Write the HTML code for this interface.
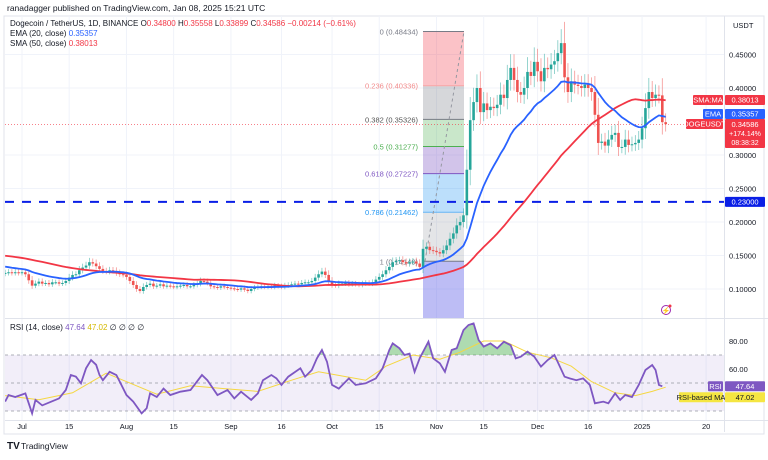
<!DOCTYPE html>
<html><head><meta charset="utf-8"><style>
body{margin:0;background:#fff;font-family:"Liberation Sans",sans-serif;}
svg text{font-family:"Liberation Sans",sans-serif;}
</style></head><body>
<svg id="c" width="768" height="455" viewBox="0 0 768 455" xmlns="http://www.w3.org/2000/svg">
<rect x="0" y="0" width="768" height="455" fill="#fff"/>
<text x="7" y="11" font-size="8.5" fill="#131722">ranadagger published on TradingView.com, Jan 08, 2025 15:21 UTC</text>
<rect x="4" y="16" width="760" height="418" fill="none" stroke="#e0e3eb"/>
<g id="grid"></g>
<g id="fib"></g>
<g id="main"></g>
<g id="rsi"></g>
<g id="axes"></g>
<text x="10" y="26" font-size="8" fill="#131722">Dogecoin / TetherUS, 1D, BINANCE  O<tspan fill="#f23645">0.34800</tspan>  H<tspan fill="#f23645">0.35558</tspan>  L<tspan fill="#f23645">0.33899</tspan>  C<tspan fill="#f23645">0.34586  −0.00214 (−0.61%)</tspan></text>
<text x="10" y="36" font-size="8" fill="#131722">EMA (20, close)  <tspan fill="#2962ff">0.35357</tspan></text>
<text x="10" y="46" font-size="8" fill="#131722">SMA (50, close)  <tspan fill="#f23645">0.38013</tspan></text>
<text x="10" y="330" font-size="8" fill="#131722">RSI (14, close)  <tspan fill="#7e57c2">47.64</tspan>  <tspan fill="#d4b800">47.02</tspan>  ∅  ∅  ∅  ∅</text>
<g><text x="7" y="449" font-size="10" font-weight="bold" fill="#131722">TV</text><text x="21" y="449" font-size="8.5" fill="#131722">TradingView</text></g>
<g><circle cx="666" cy="310" r="4.5" fill="none" stroke="#9c27b0" stroke-width="1"/><text x="666" y="313" font-size="7" fill="#9c27b0" text-anchor="middle">⚡</text><circle cx="670" cy="306" r="1.5" fill="#f23645"/></g>
</svg>
<script>
const history=[0.150,0.152,0.155,0.158,0.160,0.162,0.165,0.163,0.160,0.158,0.157,0.159,0.162,0.165,0.168,0.166,0.164,0.162,0.160,0.158,0.160,0.162,0.165,0.166,0.164,0.162,0.160,0.158,0.156,0.155,0.150,0.148,0.146,0.145,0.143,0.141,0.140,0.138,0.137,0.135,0.134,0.132,0.130,0.128,0.127,0.126,0.125,0.124,0.124,0.123];
const startDay=-5;
const closes=[0.124,0.125,0.124,0.125,0.124,0.125,
0.122,0.113,0.105,0.108,0.111,0.108,0.109,
0.107,0.110,0.110,0.108,0.109,0.112,0.117,
0.121,0.122,0.128,0.132,0.135,0.140,0.138,
0.134,0.130,0.127,0.126,0.128,0.127,0.124,
0.122,0.121,0.118,0.112,0.106,0.100,0.097,
0.103,0.106,0.108,0.104,0.105,0.107,0.104,
0.105,0.104,0.103,0.104,0.105,0.106,0.104,
0.104,0.106,0.108,0.112,0.111,0.109,0.104,
0.103,0.102,0.104,0.103,0.102,0.101,0.100,
0.099,0.101,0.099,0.097,0.100,0.102,0.103,
0.104,0.103,0.104,0.103,0.105,0.104,0.103,
0.105,0.106,0.107,0.108,0.107,0.109,0.110,
0.110,0.112,0.117,0.122,0.126,0.121,0.112,
0.106,0.105,0.108,0.108,0.109,0.107,0.108,
0.107,0.106,0.108,0.109,0.108,0.110,0.114,
0.118,0.122,0.128,0.133,0.140,0.142,0.143,
0.140,0.138,0.140,0.141,0.138,0.133,0.160,
0.163,0.158,0.157,0.155,0.153,0.158,0.165,
0.175,0.183,0.195,0.200,0.210,0.278,0.352,0.379,0.400,
0.364,0.377,0.367,0.372,0.370,0.375,0.390,
0.385,0.412,0.430,0.412,0.394,0.390,0.400,
0.424,0.418,0.439,0.425,0.410,0.430,0.428,
0.435,0.440,0.452,0.467,0.416,0.394,0.410,
0.405,0.403,0.400,0.405,0.400,0.394,0.360,
0.318,0.320,0.314,0.323,0.330,0.333,0.312,
0.312,0.323,0.315,0.316,0.318,0.323,0.340,
0.370,0.394,0.385,0.390,0.389,0.349,0.346];
const rsiDays=[-5,-4,-2,1,2,3,4,6,9,11,13,14.5,16,17.5,19,20.5,22,23,24,26,28,29,31,33,35.5,37,38,40,42,44,47,50,53.4,55,58,61,63,65,68,70,71.5,74,75.5,77,79,82.6,84,86,87.5,89,90.5,92,94,97,99,102,105,107,109,110,112,113.5,115,116.5,118,120.6,122,124,125.5,127.5,129,131,132.5,134,135.5,137,139,141,143,145,146.5,148,150,152,154,156,158,161,162.5,164.5,166.5,168.5,170,172.5,174,176,177.5,179,181,183,185,187,188,189,190,191];
const rsiVals=[36.7,41.4,40,42.6,35.5,28.3,37.9,34,37,39,45,55.7,54.5,49.8,60.5,66.4,63,55.7,52,58,55.7,51,41.4,36.7,28.3,32,42.6,40,46,41.4,43.8,45,55.7,52,41.4,45,39,43.8,37.9,42.6,52,55.7,53.3,48.6,54.5,60.5,54.5,59.3,67.6,73.6,65.2,48.6,46,53.3,48.6,49.8,53.3,60.5,73.6,78.3,74.8,70,71,58,67.6,79.5,67.6,64,58,73.6,74.8,87.8,91.4,92.6,80.7,76,78.3,74.8,79.5,77,67.6,68.8,72.4,68.8,61.7,66.4,70,54.5,53.3,52,53.3,48.6,35.5,36.7,35.5,42.6,37.9,41.4,40,48.6,59.3,62.8,59.3,48.6,47.64];
const maDays=[-5,5,15,25,33,40,50,60,70,80,88,95,102,108,116,124,130,137,143,150,157,163,169,176,182,187,191];
const maVals=[41,38,43,57,49,42,48,46,44,52,58,55,52,62,70,67,72,80,80,72,68,62,51,43,41,44,47.02];
const priceTicks=[0.10,0.15,0.20,0.25,0.30,0.45,0.40];
const rsiTicks=[80,60];
const dateLabels=["Jul","15","Aug","15","Sep","16","Oct","15","Nov","15","Dec","16","2025","20"];
const dateDays=[0,14,31,45,62,77,92,106,123,137,153,168,184,203];
const fibRatios=[0,0.236,0.382,0.5,0.618,0.786,1];
const fibPrices=[0.48434,0.40336,0.35326,0.31277,0.27227,0.21462,0.14140];
const supportLevel=0.23;
const lastClose=0.34586, emaLast=0.35357, smaLast=0.38013;

const NS="http://www.w3.org/2000/svg";
const X0=5,X1=724,PT=16,PB=318,RT=319,RB=420;
function xOf(d){return 22+d*3.37;}
function yP(p){return 289-(p-0.1)*670;}
function yR(v){return 369-(v-60)*1.4;}
function mk(tag,at,parent){const e=document.createElementNS(NS,tag);for(const k in at)e.setAttribute(k,at[k]);parent.appendChild(e);return e;}
const svg=document.getElementById('c');
const defs=mk('defs',{},svg);
const cp=mk('clipPath',{id:'cm'},defs);mk('rect',{x:X0,y:PT,width:X1-X0,height:PB-PT},cp);
const cr=mk('clipPath',{id:'cr'},defs);mk('rect',{x:X0,y:RT,width:X1-X0,height:RB-RT},cr);
const cob=mk('clipPath',{id:'cob'},defs);mk('rect',{x:X0,y:RT,width:X1-X0,height:yR(70)-RT},cob);

const grid=document.getElementById('grid');
priceTicks.forEach(p=>{const l=mk('line',{x1:X0,x2:X1,y1:yP(p),y2:yP(p),stroke:'#f0f3fa'},grid);});
dateDays.forEach(d=>{const l=mk('line',{x1:xOf(d),x2:xOf(d),y1:PT,y2:RB,stroke:'#f0f3fa'},grid);});
mk('line',{x1:X0,x2:768,y1:PB+0.5,y2:PB+0.5,stroke:'#e0e3eb'},grid);
mk('line',{x1:X1+0.5,x2:X1+0.5,y1:PT,y2:RB+12,stroke:'#e0e3eb'},grid);
mk('line',{x1:X0,x2:768,y1:RB+0.5,y2:RB+0.5,stroke:'#e0e3eb'},grid);

const fib=document.getElementById('fib');
const fx0=423,fx1=464;
const fibFill=['rgba(242,54,69,0.3)','rgba(120,123,134,0.3)','rgba(76,175,80,0.3)','rgba(126,87,194,0.35)','rgba(33,150,243,0.3)','rgba(120,123,134,0.2)'];
const fibLine=['#787b86','#f7a5a5','#787b86','#4caf50','#7e57c2','#64b5f6','#787b86'];
const fibText=['#787b86','#f28b8b','#555','#4caf50','#7e57c2','#2196f3','#787b86'];
for(let i=0;i<fibPrices.length-1;i++){const r=mk('rect',{x:fx0,y:yP(fibPrices[i]),width:fx1-fx0,height:yP(fibPrices[i+1])-yP(fibPrices[i]),fill:fibFill[i]},fib);}
const below=mk('rect',{x:fx0,y:yP(fibPrices[6]),width:fx1-fx0,height:PB-yP(fibPrices[6]),fill:'rgba(90,90,230,0.4)'},fib);

fibPrices.forEach((p,i)=>{const l=mk('line',{x1:fx0,x2:fx1,y1:yP(p),y2:yP(p),stroke:fibLine[i],'stroke-width':1},fib);
 const t=mk('text',{x:418,y:yP(p)+3,'font-size':7.5,fill:fibText[i],'text-anchor':'end'},fib);t.textContent=fibRatios[i]+' ('+p.toFixed(5)+')';});
mk('line',{x1:fx0+2,y1:yP(fibPrices[6]),x2:fx1,y2:yP(fibPrices[0]),stroke:'#9598a1','stroke-dasharray':'3,3'},fib);

const main=document.getElementById('main');main.setAttribute('clip-path','url(#cm)');
const sl=mk('line',{x1:X0,x2:X1,y1:yP(supportLevel),y2:yP(supportLevel),stroke:'#0a1fe6','stroke-width':2,'stroke-dasharray':'9,8'},main);

const pl=mk('line',{x1:X0,x2:X1,y1:yP(lastClose),y2:yP(lastClose),stroke:'#f23645','stroke-width':0.6,'stroke-dasharray':'1,2'},main);

let prev=history[history.length-1];
closes.forEach((c,i)=>{const d=startDay+i;const o=prev;prev=c;const up=c>=o;const col=up?'#26a69a':'#ef5350';
 const hi=Math.max(o,c)*1.035+Math.abs(c-o)*0.3,lo=Math.min(o,c)*0.97-Math.abs(c-o)*0.2;const x=xOf(d);
 const w=mk('line',{x1:x,x2:x,y1:yP(hi),y2:yP(lo),stroke:col,'stroke-width':0.8,opacity:0.6},main);
 const yt=yP(Math.max(o,c)),h=Math.max(1,yP(Math.min(o,c))-yt);
 const b=mk('rect',{x:x-1.3,y:yt,width:2.6,height:h,fill:col},main);});
const all=history.concat(closes);
let ema=history.slice(0,20).reduce((a,b)=>a+b,0)/20;const k=2/21;
for(let i=20;i<history.length;i++)ema=all[i]*k+ema*(1-k);
let ep=[],sp=[];
closes.forEach((c,i)=>{ema=c*k+ema*(1-k);const j=history.length+i;const s=all.slice(j-49,j+1).reduce((a,b)=>a+b,0)/50;const x=xOf(startDay+i);ep.push(x+','+yP(ema));sp.push(x+','+yP(s));});
const smaL=mk('polyline',{points:sp.join(' '),fill:'none',stroke:'#f23645','stroke-width':1.8},main);
const emaL=mk('polyline',{points:ep.join(' '),fill:'none',stroke:'#2962ff','stroke-width':1.8},main);

const rsi=document.getElementById('rsi');rsi.setAttribute('clip-path','url(#cr)');
const band=mk('rect',{x:X0,y:yR(70),width:X1-X0,height:yR(30)-yR(70),fill:'rgba(126,87,194,0.1)'},rsi);
[70,50,30].forEach(v=>{const l=mk('line',{x1:X0,x2:X1,y1:yR(v),y2:yR(v),stroke:'#9598a1','stroke-width':0.8,'stroke-dasharray':'3,3'},rsi);});
const rp=rsiDays.map((d,i)=>xOf(d)+','+yR(rsiVals[i]));
const ob=mk('polygon',{points:xOf(rsiDays[0])+','+yR(70)+' '+rp.join(' ')+' '+xOf(rsiDays[rsiDays.length-1])+','+yR(70),fill:'rgba(76,175,80,0.45)','clip-path':'url(#cob)'},rsi);

const ma=mk('polyline',{points:maDays.map((d,i)=>xOf(d)+','+yR(maVals[i])).join(' '),fill:'none',stroke:'#f5d742','stroke-width':1},rsi);
const rl=mk('polyline',{points:rp.join(' '),fill:'none',stroke:'#7e57c2','stroke-width':1.8},rsi);

const ax=document.getElementById('axes');
function lbl(x,y,t,fill,anchor,size,name){const e=mk('text',{x:x,y:y,'font-size':size||7.5,fill:fill||'#131722','text-anchor':anchor||'start'},ax);e.textContent=t;return e;}
lbl(733,28,'USDT','#131722','start',7.5,'currency-label');
priceTicks.forEach(p=>lbl(729,yP(p)+3,p.toFixed(5),'#131722','start',7.5,'price-tick'));
rsiTicks.forEach(v=>lbl(729,yR(v)+3,v.toFixed(2),'#131722','start',7.5,'rsi-tick'));
dateLabels.forEach((t,i)=>lbl(xOf(dateDays[i]),429,t,'#131722','middle',7.5,'date-tick'));
function tag(x,y,w,h,fill,t,name,tc){const r=mk('rect',{x:x,y:y,width:w,height:h,fill:fill,rx:1},ax);const e=mk('text',{x:x+w/2,y:y+h-2.5,'font-size':7.5,fill:tc||'#fff','text-anchor':'middle'},ax);e.textContent=t;}
tag(725,yP(supportLevel)-5,40,10,'#0a1fe6',supportLevel.toFixed(5),'support-price-tag');
tag(693,95,30,10,'#f23645','SMA:MA','sma-name-tag');
tag(725,95,40,10,'#f23645',smaLast.toFixed(5),'sma-price-tag');
tag(703,109,20,10,'#2962ff','EMA','ema-name-tag');
tag(725,109,40,10,'#2962ff',emaLast.toFixed(5),'ema-price-tag');
tag(686,119,37,10,'#f23645','DOGEUSDT','symbol-name-tag');
const pb=mk('rect',{x:725,y:119,width:40,height:29,fill:'#f23645',rx:1},ax);
lbl(745,127,lastClose.toFixed(5),'#fff','middle',7.5,'last-price-value');
lbl(745,136,'+174.14%','#fff','middle',7,'change-percent');
lbl(745,145,'08:38:32','#fff','middle',7,'countdown');
tag(708,yR(47.64)-5,15,10,'#7e57c2','RSI','rsi-name-tag');
tag(725,yR(47.64)-5,40,10,'#7e57c2','47.64','rsi-value-tag');
tag(679,yR(47.64)+6,44,10,'#f5e642','RSI-based MA','rsi-ma-name-tag','#131722');
tag(725,yR(47.64)+6,40,10,'#f5e642','47.02','rsi-ma-value-tag','#131722');
</script>
</body></html>
